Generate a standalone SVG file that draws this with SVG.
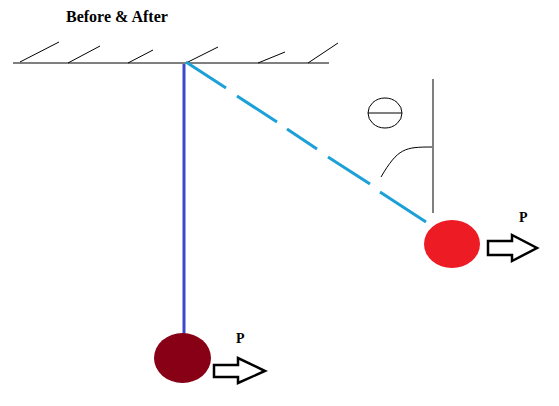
<svg xmlns="http://www.w3.org/2000/svg" width="559" height="406" viewBox="0 0 559 406">
<style>
.thin{stroke:#000;stroke-width:1;fill:none}
.lbl{font-family:"Liberation Serif",serif;font-weight:bold;fill:#000}
.arrow{fill:#fff;stroke:#000;stroke-width:2.5;stroke-linejoin:miter}
</style>
<rect width="559" height="406" fill="#fff"/>
<text class="lbl" x="66" y="22" font-size="16">Before &amp; After</text>
<g id="ceiling">
<line class="thin" x1="13" y1="63" x2="329" y2="63"/>
<path class="thin" d="M20,62 L59,42 M68,63 L100,46 M128,63 L153,50 M188,62 L218,47 M258,63 L285,52 M308,63 L338,43"/>
</g>
<g id="connectors">
<line x1="184" y1="64" x2="184" y2="334" stroke="#3f48cc" stroke-width="3"/>
<path d="M186,62 L226,88 M237,96 L277,122 M287,129 L317,149 M328,157 L370,184 M380,192 L426,222" stroke="#1ca0d8" stroke-width="3" fill="none"/>
<line class="thin" x1="433" y1="79" x2="433" y2="213"/>
<path class="thin" d="M432,147 C405,147 398,148 381,177"/>
</g>
<g id="theta">
<ellipse class="thin" cx="385" cy="113" rx="17" ry="15"/>
<line class="thin" x1="368" y1="113" x2="402" y2="113"/>
</g>
<g id="ball-after">
<ellipse cx="452" cy="244" rx="28" ry="24" fill="#ed1c24"/>
<path class="arrow" d="M488,241 L512,241 L512,235 L537,248 L512,261 L512,255 L488,255 Z"/>
<text class="lbl" x="519" y="222" font-size="14">P</text>
</g>
<g id="ball-before">
<ellipse cx="182.5" cy="358" rx="28.5" ry="25" fill="#880015"/>
<path class="arrow" d="M214,365 L238,365 L238,358 L265,371 L238,383 L238,377 L214,377 Z"/>
<text class="lbl" x="236" y="343" font-size="14">P</text>
</g>
</svg>
